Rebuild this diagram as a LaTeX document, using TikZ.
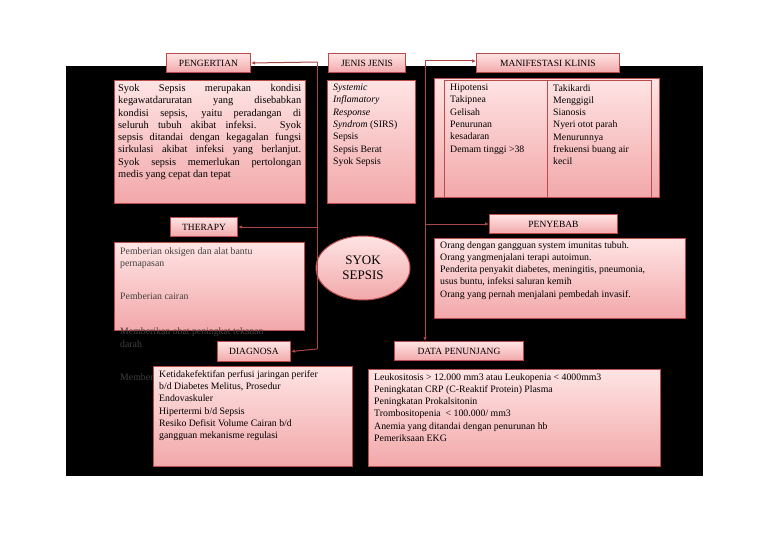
\documentclass[tikz,border=0pt]{standalone}
\usepackage{fontspec}
\setmainfont{Liberation Serif}
\usetikzlibrary{arrows.meta,shapes.geometric}
\definecolor{bord}{RGB}{185,75,75}
\definecolor{ln}{RGB}{170,70,70}
\definecolor{ptop}{RGB}{255,228,228}
\definecolor{pbot}{RGB}{242,168,170}
\tikzset{
 pbox/.style={draw=bord,line width=1pt,top color=ptop,bottom color=pbot},
 lab/.style={pbox,font=\fontsize{9.5}{10}\selectfont,inner sep=0pt,anchor=north west},
 txt/.style={anchor=north west,inner sep=0pt,font=\fontsize{9.8}{12.3}\selectfont,align=left},
 con/.style={ln,line width=1pt},
 arr/.style={con,-{Latex[length=4pt,width=3.5pt]}}
}
\begin{document}
\begin{tikzpicture}[x=1pt,y=-1pt]
\useasboundingbox (0,0) rectangle (768,543);
\fill[white] (0,0) rectangle (768,543);
\fill[black] (66,66) rectangle (703,476);
% labels
\node[lab,minimum width=84,minimum height=19] (peng) at (166,53) {PENGERTIAN};
\node[lab,minimum width=77,minimum height=19] (jenis) at (328,53) {JENIS JENIS};
\node[lab,minimum width=143,minimum height=19] (mani) at (476,53) {MANIFESTASI KLINIS};
\node[lab,minimum width=67,minimum height=19] (ther) at (170,217) {THERAPY};
\node[lab,minimum width=73,minimum height=20] (diag) at (217,341) {DIAGNOSA};
\node[lab,minimum width=128,minimum height=19] (peny) at (489,214) {PENYEBAB};
\node[lab,minimum width=129,minimum height=19] (data) at (394,341) {DATA PENUNJANG};
% boxes
\draw[pbox] (114,80) rectangle (305,203);
\node[txt,text width=183,align=justify,font=\fontsize{10.4}{12.3}\selectfont] (ptxt) at (118,84) {\hyphenpenalty=10000 Syok Sepsis merupakan kondisi\linebreak kegawatdaruratan yang disebabkan\linebreak kondisi sepsis, yaitu peradangan di\linebreak seluruh tubuh akibat infeksi. Syok\linebreak sepsis ditandai dengan kegagalan fungsi\linebreak sirkulasi akibat infeksi yang berlanjut.\linebreak Syok sepsis memerlukan pertolongan\linebreak medis yang cepat dan tepat};
\draw[pbox] (327,80) rectangle (415,203);
\node[txt] (jtxt) at (333,84) {\textit{Systemic}\\\textit{Inflamatory}\\\textit{Response}\\\textit{Syndrom} (SIRS)\\Sepsis\\Sepsis Berat\\Syok Sepsis};
\draw[pbox] (434,78) rectangle (659,197);
\draw[bord,line width=1pt] (444,80) rectangle (651,197) (547,80) -- (547,197);
\node[txt] (m1) at (450,84) {Hipotensi\\Takipnea\\Gelisah\\Penurunan\\kesadaran\\Demam tinggi >38};
\node[txt] (m2) at (553,84) {Takikardi\\Menggigil\\Sianosis\\Nyeri otot parah\\Menurunnya\\frekuensi buang air\\kecil};
\draw[pbox] (114,242) rectangle (304,330);
\node[txt,text=black!75!white] (ttxt) at (120,247) {Pemberian oksigen dan alat bantu\\pernapasan\\[21pt]Pemberian cairan\\[23pt]Memberikan obat peningkat tekanan\\darah\\[21pt]Memberikan antibiotik};
\node[ellipse,draw=bord,line width=1pt,top color=ptop,bottom color=pbot,minimum width=94,minimum height=64,inner sep=0pt,align=center,font=\fontsize{13}{15}\selectfont] (syok) at (363,268) {SYOK\\SEPSIS};
\draw[pbox] (434,238) rectangle (685,318);
\node[txt] (ytxt) at (440,241) {Orang dengan gangguan system imunitas tubuh.\\Orang yangmenjalani terapi autoimun.\\Penderita penyakit diabetes, meningitis, pneumonia,\\usus buntu, infeksi saluran kemih\\Orang yang pernah menjalani pembedah invasif.};
\draw[pbox] (153,366) rectangle (352,466);
\node[txt] (dtxt) at (159,370) {Ketidakefektifan perfusi jaringan perifer\\b/d Diabetes Melitus, Prosedur\\Endovaskuler\\Hipertermi b/d Sepsis\\Resiko Defisit Volume Cairan b/d\\gangguan mekanisme regulasi};
\draw[pbox] (368,369) rectangle (660,466);
\node[txt] (ptx) at (374,373) {Leukositosis > 12.000 mm3 atau Leukopenia < 4000mm3\\Peningkatan CRP (C-Reaktif Protein) Plasma\\Peningkatan Prokalsitonin\\Trombositopenia \ < 100.000/ mm3\\Anemia yang ditandai dengan penurunan hb\\Pemeriksaan EKG};
% connectors
\coordinate (a1) at (317,62);
\coordinate (a2) at (317,227);
\coordinate (a3) at (317,349);
\coordinate (b1) at (425,61);
\coordinate (b2) at (425,224);
\draw[con] (a1) -- (a3);
\draw[arr] (a1) -- (peng.east);
\draw[arr] (a2) -- (ther.east);
\draw[arr] (a3) -- (diag.east);
\draw[arr] (b1) -- (b1 -| mani.west);
\draw[arr] (b2) -- (b2 -| peny.west);
\draw[arr] (b1) -- (b1 |- data.north);
\end{tikzpicture}
\end{document}
